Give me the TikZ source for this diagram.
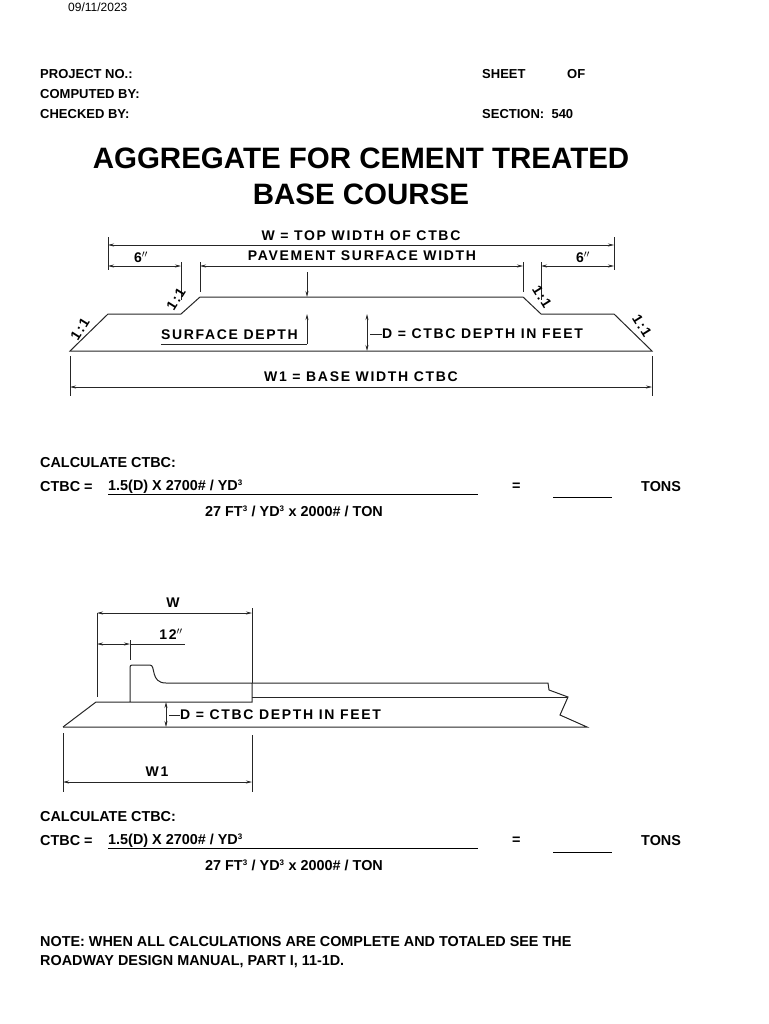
\documentclass[tikz,border=0pt]{standalone}
\usepackage{fontspec}
\setmainfont{Liberation Sans}
\newfontfamily\cad[LetterSpace=12]{Liberation Sans}
\usetikzlibrary{arrows.meta}
\newcommand{\cube}{\textsuperscript{\fontsize{8}{8}\selectfont 3}}
\begin{document}
\begin{tikzpicture}[x=1pt,y=-1pt,
  hdr/.style={anchor=west,inner sep=0pt,font=\fontsize{13}{15}\selectfont\bfseries},
  calc/.style={anchor=west,inner sep=0pt,font=\fontsize{14.4}{16}\selectfont\bfseries},
  lbl/.style={inner sep=0pt,font=\cad\fontsize{14}{15}\selectfont\bfseries},
  ln/.style={line width=1pt,black!85},
  thin/.style={line width=0.7pt,black!85},
  dim/.style={thin,{Stealth[length=6pt,width=3pt]}-{Stealth[length=6pt,width=3pt]}},
  arr/.style={thin,-{Stealth[length=6pt,width=3pt]}}]
\useasboundingbox (0,0) rectangle (768,1024);
\node[anchor=west,inner sep=0pt,font=\fontsize{12}{13}\selectfont] (date) at (68,7) {09/11/2023};
\node[hdr] (pn) at (40,74) {PROJECT NO.:};
\node[hdr] (cb) at (40,94) {COMPUTED BY:};
\node[hdr] (ck) at (40,114) {CHECKED BY:};
\node[hdr] (sh) at (482,74) {SHEET};
\node[hdr] (of) at (567,74) {OF};
\node[hdr] (sec) at (482,114) {SECTION:\ \ 540};
\node[inner sep=0pt,font=\fontsize{29.5}{32}\selectfont\bfseries,align=center] (title) at (361,176) {AGGREGATE FOR CEMENT TREATED\\[4pt]BASE COURSE};
% diagram 1
\draw[ln] (70,351) -- (108,314) -- (181,314) -- (200,297) -- (523,297) -- (541,314) -- (614,314) -- (652,351) -- cycle;
\foreach \x/\a/\b in {108/237/270,614/237/270,181/262/300,200/262/292,523/262/292,541/262/300,70/356/396,652/356/396}
  \draw[thin] (\x,\a) -- (\x,\b);
\coordinate (wl) at (108,245); \coordinate (wr) at (614,245);
\draw[dim] (wl) -- (wr);
\node[lbl,fill=white,inner sep=2pt] (wt) at (361,236) {W = TOP WIDTH OF CTBC};
\coordinate (a1) at (108,266); \coordinate (a2) at (181,266);
\coordinate (a3) at (200,266); \coordinate (a4) at (523,266);
\coordinate (a5) at (541,266); \coordinate (a6) at (614,266);
\draw[dim] (a1) -- (a2); \draw[dim] (a3) -- (a4); \draw[dim] (a5) -- (a6);
\node[lbl] (s6l) at (141,257) {6$''$};
\node[lbl] (s6r) at (583,257) {6$''$};
\node[lbl,fill=white,inner sep=2pt] (pt) at (362,256) {PAVEMENT SURFACE WIDTH};
\node[lbl,rotate=58] (r1) at (80,329) {1:1};
\node[lbl,rotate=58] (r2) at (176,299) {1:1};
\node[lbl,rotate=-58] (r3) at (542,297) {1:1};
\node[lbl,rotate=-58] (r4) at (642,326) {1:1};
\coordinate (sd1) at (307,272); \coordinate (sd2) at (307,297);
\draw[arr] (sd1) -- (sd2);
\node[lbl,anchor=east] (sdt) at (298,335) {SURFACE DEPTH};
\coordinate (sd3) at (307,344); \coordinate (sd4) at (307,314);
\draw[thin] (sdt.west |- sd3) -- (sd3);
\draw[arr] (sd3) -- (sd4);
\coordinate (d1) at (367,314); \coordinate (d2) at (367,351);
\draw[dim] (d1) -- (d2);
\node[lbl,anchor=west] (dt) at (382,334) {D = CTBC DEPTH IN FEET};
\draw[thin] (370,334) -- (dt.west);
\coordinate (b1) at (70,387); \coordinate (b2) at (652,387);
\draw[dim] (b1) -- (b2);
\node[lbl,fill=white,inner sep=2pt] (w1t) at (361,377) {W1 = BASE WIDTH CTBC};
% calc 1
\node[calc] (c1) at (40,463) {CALCULATE CTBC:};
\node[calc] (c1a) at (40,487) {CTBC =};
\node[calc] (c1n) at (108,487) {1.5(D) X 2700\# / YD\cube};
\draw[line width=0.8pt] (108,494) -- (478,494);
\node[calc] (c1e) at (512,487) {=};
\draw[line width=1pt] (553,497) -- (612,497);
\node[calc] (c1t) at (641,487) {TONS};
\node[calc,anchor=center] (c1d) at (294,511) {27 FT\cube\ / YD\cube\ x 2000\# / TON};
% diagram 2
\draw[ln] (63,727) -- (96,702) -- (130,702) -- (130,668) [rounded corners=2pt] -- (130,665) -- (148,665) [sharp corners] .. controls (156,665) and (150,683) .. (166,683) -- (252,683) -- (252,702) -- (130,702);
\draw[ln] (252,683) -- (548,683) -- (549,690) -- (568,697) -- (560,715) -- (587,727) -- (63,727);
\draw[ln] (252,697) -- (568,697);
\draw[thin] (97,613) -- (97,697);
\draw[thin] (252,608) -- (252,683);
\coordinate (ww1) at (97,613); \coordinate (ww2) at (252,613);
\draw[dim] (ww1) -- (ww2);
\node[lbl] (wt2) at (173,603) {W};
\coordinate (tw1) at (97,644); \coordinate (tw2) at (130,644);
\draw[dim] (tw1) -- (tw2);
\draw[thin] (130,644) -- (185,644);
\draw[thin] (130,640) -- (130,660);
\node[lbl] (tt) at (171,634) {12$''$};
\coordinate (dd1) at (166,702); \coordinate (dd2) at (166,727);
\draw[dim] (dd1) -- (dd2);
\node[lbl,anchor=west] (dt2) at (180,715) {D = CTBC DEPTH IN FEET};
\draw[thin] (169,715) -- (dt2.west);
\draw[thin] (63,733) -- (63,792);
\draw[thin] (252,735) -- (252,792);
\coordinate (v1) at (63,782); \coordinate (v2) at (252,782);
\draw[dim] (v1) -- (v2);
\node[lbl] (w1t2) at (157,772) {W1};
% calc 2
\node[calc] (c2) at (40,817) {CALCULATE CTBC:};
\node[calc] (c2a) at (40,841) {CTBC =};
\node[calc] (c2n) at (108,841) {1.5(D) X 2700\# / YD\cube};
\draw[line width=0.8pt] (108,848) -- (478,848);
\node[calc] (c2e) at (512,841) {=};
\draw[line width=1pt] (553,852) -- (612,852);
\node[calc] (c2t) at (641,841) {TONS};
\node[calc,anchor=center] (c2d) at (294,865) {27 FT\cube\ / YD\cube\ x 2000\# / TON};
\node[calc] (n1) at (40,942) {NOTE: WHEN ALL CALCULATIONS ARE COMPLETE AND TOTALED SEE THE};
\node[calc] (n2) at (40,962) {ROADWAY DESIGN MANUAL, PART I, 11-1D.};
\end{tikzpicture}
\end{document}
